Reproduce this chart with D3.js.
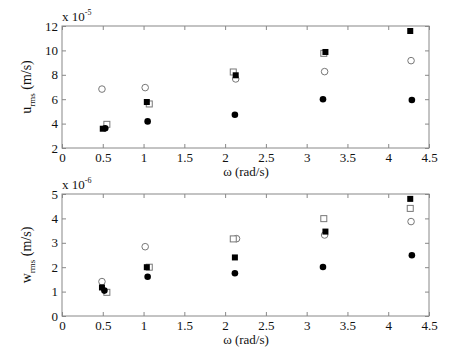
<!DOCTYPE html>
<html><head><meta charset="utf-8">
<script src="https://cdn.jsdelivr.net/npm/d3@7"></script>
<style>body{margin:0;background:#fff}svg{display:block}svg text{font-family:"Liberation Serif","Times New Roman",Times,"DejaVu Serif",serif !important;fill:#111}</style>
</head><body><svg id="c" width="474" height="355"></svg>
<script>
// x positions (omega, rad/s)
const xTicks = [0, 0.5, 1, 1.5, 2, 2.5, 3, 3.5, 4, 4.5];
const uTicks = [2, 4, 6, 8, 10, 12];
const wTicks = [0, 1, 2, 3, 4, 5];
// top panel: u_rms x 1e-5
const uOpenCircle = [[0.49,6.83],[1.02,6.95],[2.13,7.66],[3.22,8.26],[4.28,9.16]];
const uFilledSquare = [[0.50,3.58],[1.04,5.77],[2.13,7.96],[3.23,9.87],[4.27,11.59]];
const uOpenSquare = [[0.55,3.94],[1.07,5.61],[2.10,8.23],[3.21,9.76]];
const uFilledCircle = [[0.53,3.62],[1.05,4.18],[2.12,4.72],[3.20,5.99],[4.29,5.93]];
// bottom panel: w_rms x 1e-6
const wOpenCircle = [[0.49,1.41],[1.02,2.84],[2.14,3.17],[3.22,3.32],[4.28,3.87]];
const wFilledSquare = [[0.49,1.17],[1.04,2.00],[2.12,2.40],[3.23,3.46],[4.27,4.80]];
const wOpenSquare = [[0.55,0.97],[1.07,2.00],[2.10,3.16],[3.21,3.99],[4.27,4.41]];
const wFilledCircle = [[0.52,1.04],[1.05,1.61],[2.12,1.75],[3.20,2.01],[4.29,2.49]];

const svg = d3.select("#c");
const axisCol = "#888";
const FONT = '"Liberation Serif","Times New Roman",Times,"DejaVu Serif",serif';

function panel(top, bottom, yDom, yTicks, series, ylab, expo) {
  const x = d3.scaleLinear().domain([0,4.5]).range([62,429]);
  const y = d3.scaleLinear().domain(yDom).range([bottom, top]);
  const g = svg.append("g").attr("font-family", FONT);
  g.append("rect").attr("x",62).attr("y",top).attr("width",367).attr("height",bottom-top)
    .attr("fill","none").attr("stroke",axisCol).attr("stroke-width",1);
  const tl = 4;
  const ax = [
    [d3.axisBottom(x).tickValues(xTicks).tickSizeInner(-tl).tickSizeOuter(0).tickPadding(5).tickFormat(d3.format("")), `translate(0,${bottom})`],
    [d3.axisTop(x).tickValues(xTicks).tickSizeInner(-tl).tickSizeOuter(0).tickFormat(""), `translate(0,${top})`],
    [d3.axisLeft(y).tickValues(yTicks).tickSizeInner(-tl).tickSizeOuter(0).tickPadding(4).tickFormat(d3.format("")), `translate(62,0)`],
    [d3.axisRight(y).tickValues(yTicks).tickSizeInner(-tl).tickSizeOuter(0).tickFormat(""), `translate(429,0)`]
  ];
  ax.forEach(([a, t]) => {
    const s = g.append("g").attr("transform", t).call(a).attr("font-family", FONT);
    s.select(".domain").remove();
    s.selectAll("line").attr("stroke", axisCol);
    s.selectAll("text").attr("font-size", 13).attr("fill","#111");
  });
  const [oc, fs, os, fc] = series;
  g.selectAll(".oc").data(oc).join("circle").attr("cx",d=>x(d[0])).attr("cy",d=>y(d[1])).attr("r",3.3)
    .attr("fill","#fff").attr("stroke","#777").attr("stroke-width",1);
  g.selectAll(".os").data(os).join("rect").attr("x",d=>x(d[0])-3).attr("y",d=>y(d[1])-3).attr("width",6).attr("height",6)
    .attr("fill","#fff").attr("stroke","#777").attr("stroke-width",1);
  g.selectAll(".fs").data(fs).join("rect").attr("x",d=>x(d[0])-3).attr("y",d=>y(d[1])-3).attr("width",6).attr("height",6)
    .attr("fill","#000");
  g.selectAll(".fc").data(fc).join("circle").attr("cx",d=>x(d[0])).attr("cy",d=>y(d[1])).attr("r",3.3)
    .attr("fill","#000");
  const yl = g.append("text").attr("transform",`translate(31,${(top+bottom)/2}) rotate(-90)`).attr("text-anchor","middle").attr("font-size",14);
  yl.append("tspan").text(ylab);
  yl.append("tspan").attr("font-size",9).attr("dy",4).text("rms");
  yl.append("tspan").attr("dy",-4).text(" (m/s)");
  g.append("text").attr("x",246).attr("y",bottom+28).attr("text-anchor","middle").attr("font-size",13).text("ω (rad/s)");
  const ex = g.append("text").attr("x",62).attr("y",top-5).attr("font-size",13);
  ex.append("tspan").text("x 10");
  ex.append("tspan").attr("font-size",8).attr("dy",-6).text(expo);
}
panel(26, 148, [2,12], uTicks, [uOpenCircle, uFilledSquare, uOpenSquare, uFilledCircle], "u", "-5");
panel(194, 316, [0,5], wTicks, [wOpenCircle, wFilledSquare, wOpenSquare, wFilledCircle], "w", "-6");
</script></body></html>
